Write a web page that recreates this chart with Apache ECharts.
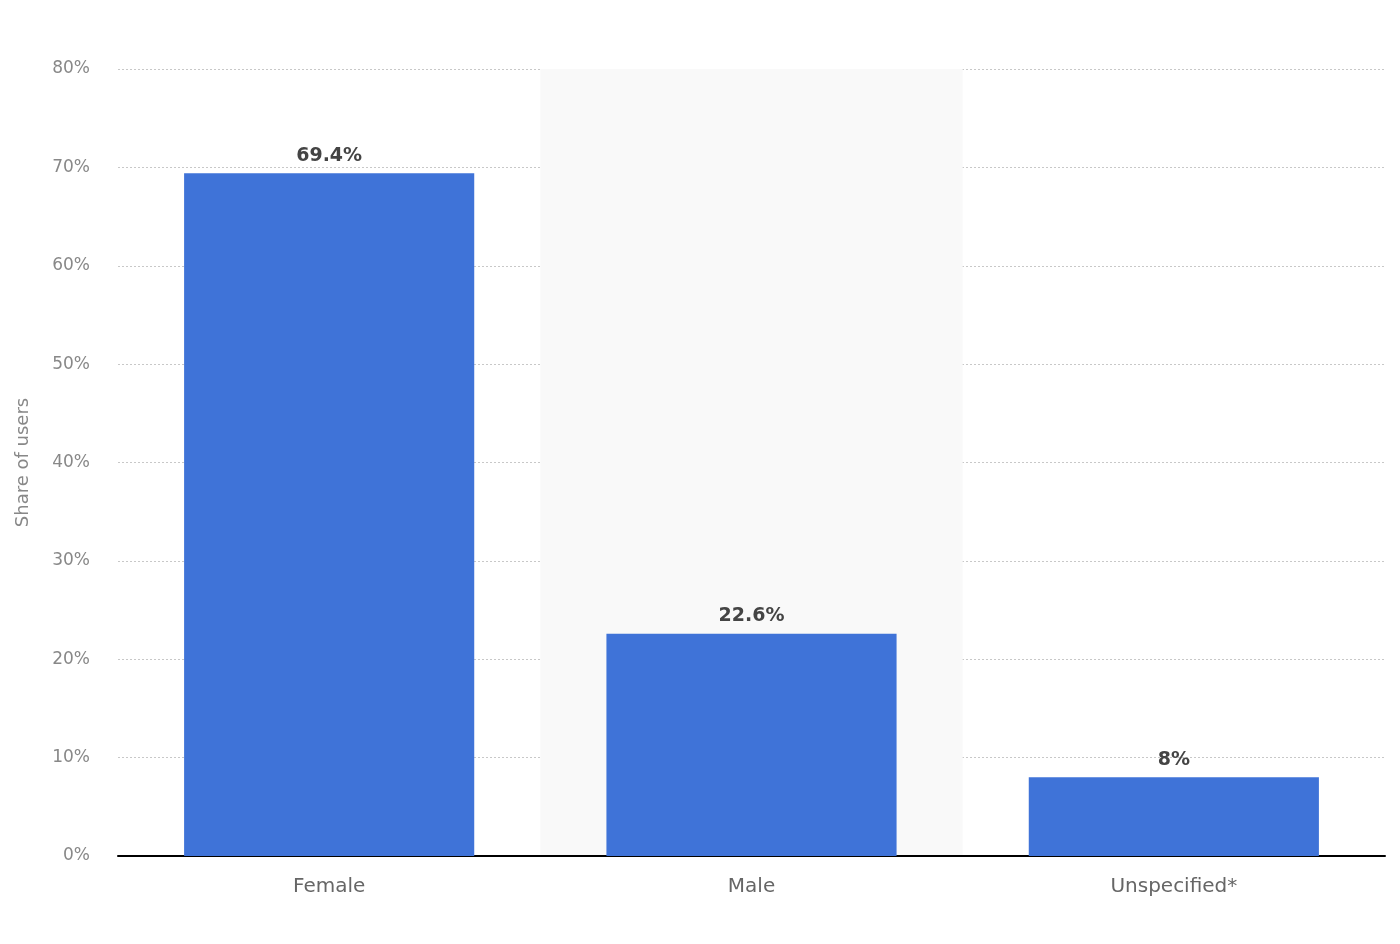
<!DOCTYPE html>
<html>
<head>
<meta charset="utf-8">
<script src="https://cdn.jsdelivr.net/npm/echarts@6/dist/echarts.min.js"></script>
<style>html,body{margin:0;padding:0;background:#fff;}#c{width:1400px;height:944px;}</style>
</head>
<body>
<div id="c"></div>
<script>
const categories = ['Female', 'Male', 'Unspecified*'];
const shareValues = [69.4, 22.6, 8];
const yTicks = [0, 10, 20, 30, 40, 50, 60, 70, 80];

const FONT = 'DejaVu Sans';
const chart = echarts.init(document.getElementById('c'), null, {renderer: 'canvas'});
chart.setOption({
  backgroundColor: '#ffffff',
  animation: false,
  textStyle: {fontFamily: FONT},
  grid: {left: 118, right: 15, top: 69, bottom: 88, containLabel: false},
  xAxis: {
    type: 'category',
    data: categories,
    axisLine: {lineStyle: {color: '#000', width: 2}},
    axisTick: {show: false},
    axisLabel: {color: '#666', fontSize: 20, margin: 21, fontFamily: FONT},
    splitArea: {show: true, areaStyle: {color: ['rgba(255,255,255,0)', '#f9f9f9']}}
  },
  yAxis: {
    type: 'value',
    min: yTicks[0],
    max: yTicks[yTicks.length - 1],
    interval: 10,
    name: 'Share of users',
    nameLocation: 'middle',
    nameGap: 86,
    nameTextStyle: {color: '#888', fontSize: 18, fontFamily: FONT},
    axisLine: {show: false},
    axisTick: {show: false},
    axisLabel: {color: '#888', fontSize: 17, margin: 28, formatter: v => v + '%', fontFamily: FONT},
    splitLine: {lineStyle: {color: '#c8c8c8', type: [2, 2], width: 1}}
  },
  series: [{
    type: 'bar',
    data: shareValues,
    barWidth: '68.7%',
    itemStyle: {color: '#3f73d8'},
    label: {
      show: true,
      position: 'top',
      distance: 8,
      color: '#444',
      fontSize: 19,
      fontWeight: 'bold',
      fontFamily: FONT,
      formatter: p => p.value + '%'
    }
  }]
});
</script>
</body>
</html>
